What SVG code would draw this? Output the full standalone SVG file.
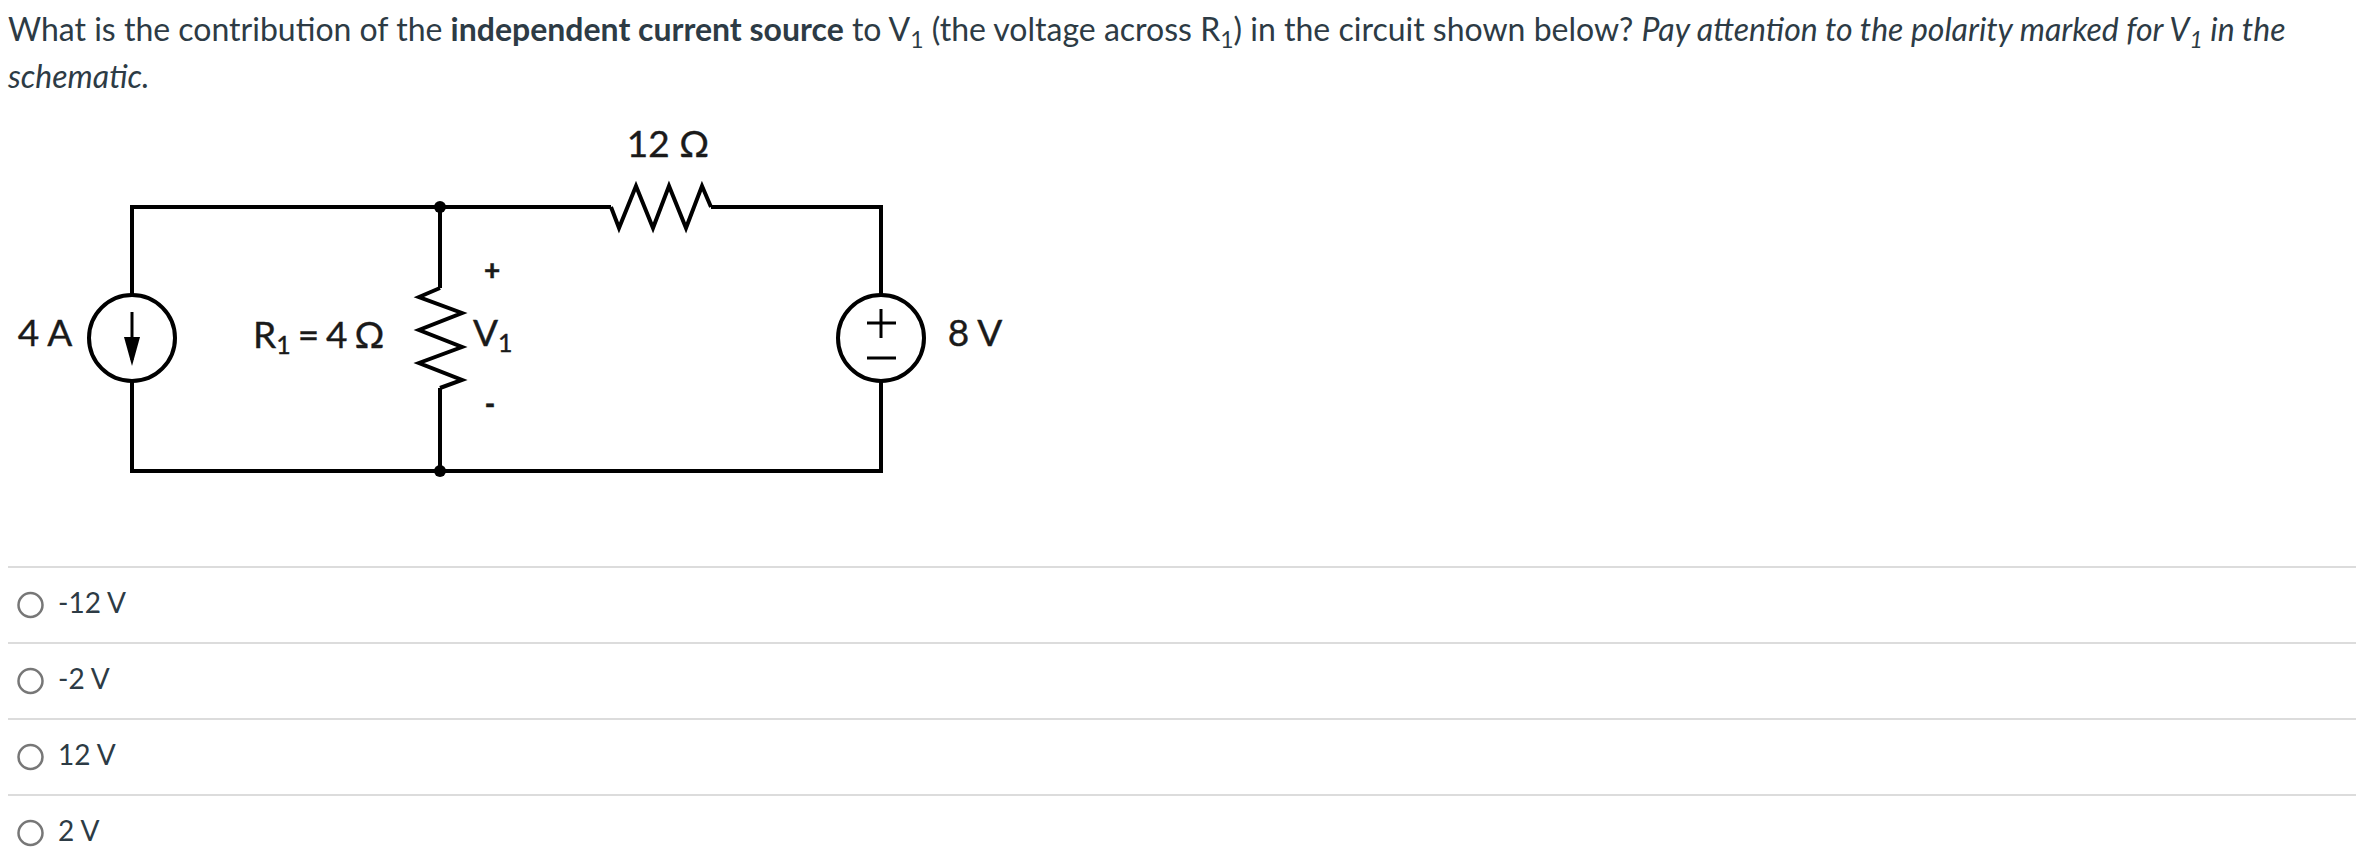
<svg xmlns="http://www.w3.org/2000/svg" width="2380" height="858" viewBox="0 0 2380 858">
<style>
.q{font-family:Lato,"Liberation Sans",sans-serif;font-size:32px;fill:#2d3b45}
.o{font-family:Lato,"Liberation Sans",sans-serif;font-size:28px;fill:#2d3b45}
.c{font-family:Lato,"Open Sans",sans-serif;font-size:37px;fill:#1a1a1a;stroke:#1a1a1a;stroke-width:.4}
.s{font-size:28px;font-weight:900}
.w{fill:none;stroke:#000;stroke-width:4;stroke-linejoin:miter}
.t{fill:none;stroke:#000;stroke-width:3}
.sep{stroke:#dcdcdc;stroke-width:2}
.r{fill:#fff;stroke:#777;stroke-width:2.5}
</style>
<rect width="2380" height="858" fill="#fff"/>
<g id="question">
<text class="q" x="8" y="41">What is the contribution of the <tspan font-weight="700">independent current source</tspan> to V<tspan font-size="23" dy="7">1</tspan><tspan dy="-7"> (the voltage across R</tspan><tspan font-size="23" dy="7">1</tspan><tspan dy="-7">) in the circuit shown below? </tspan><tspan font-style="italic">Pay attention to the polarity marked for V</tspan><tspan font-style="italic" font-size="23" dy="7">1</tspan><tspan font-style="italic" dy="-7"> in the</tspan></text>
<text class="q" x="8" y="88" font-style="italic">schematic.</text>
</g>
<g id="connectors">
<path class="w" d="M132 295V207H440"/>
<path class="w" d="M132 381V471H440"/>
<path class="w" d="M440 207H611"/>
<path class="w" d="M711 207H881V295"/>
<path class="w" d="M881 381V471H440"/>
<path class="w" d="M440 207V288"/>
<path class="w" d="M440 388V471"/>
</g>
<g id="junction-top"><circle cx="440" cy="207" r="6"/></g>
<g id="junction-bottom"><circle cx="440" cy="471" r="6"/></g>
<g id="current-source">
<circle class="w" cx="132" cy="338" r="43"/>
<path class="t" d="M132 312V360"/>
<path d="M124 337H140L132 366Z"/>
<text class="c" x="45" y="346" text-anchor="middle">4 A</text>
</g>
<g id="r1">
<path class="w" d="M440 288L419 297L462 313L419 330L462 347L419 363L462 380L440 388"/>
<text class="c" x="253" y="348" word-spacing="-2.500">R<tspan font-size="25" dy="6">1</tspan><tspan dy="-6"> = 4 Ω</tspan></text>
</g>
<g id="v1">
<text class="c s" x="492" y="280" text-anchor="middle">+</text>
<text class="c s" x="490" y="414" text-anchor="middle">-</text>
<text class="c" x="473" y="346">V<tspan font-size="25" dy="6">1</tspan></text>
</g>
<g id="r2">
<path class="w" d="M611 207L619 228L636 186L653 228L669 186L686 228L702 186L711 207"/>
<text class="c" x="668" y="157" text-anchor="middle">12 Ω</text>
</g>
<g id="voltage-source">
<circle class="w" cx="881" cy="338" r="43"/>
<path class="t" d="M867 323H896M881 309V338M867 358H896"/>
<text class="c" x="975" y="346" text-anchor="middle">8 V</text>
</g>
<g id="options">
<line class="sep" x1="8" x2="2356" y1="567" y2="567"/>
<line class="sep" x1="8" x2="2356" y1="643" y2="643"/>
<line class="sep" x1="8" x2="2356" y1="719" y2="719"/>
<line class="sep" x1="8" x2="2356" y1="795" y2="795"/>
<circle class="r" cx="30.500" cy="605" r="12"/><text class="o" x="58" y="613">-12 V</text>
<circle class="r" cx="30.500" cy="681" r="12"/><text class="o" x="58" y="689">-2 V</text>
<circle class="r" cx="30.500" cy="757" r="12"/><text class="o" x="58" y="765">12 V</text>
<circle class="r" cx="30.500" cy="833" r="12"/><text class="o" x="58" y="841">2 V</text>
</g>
</svg>
